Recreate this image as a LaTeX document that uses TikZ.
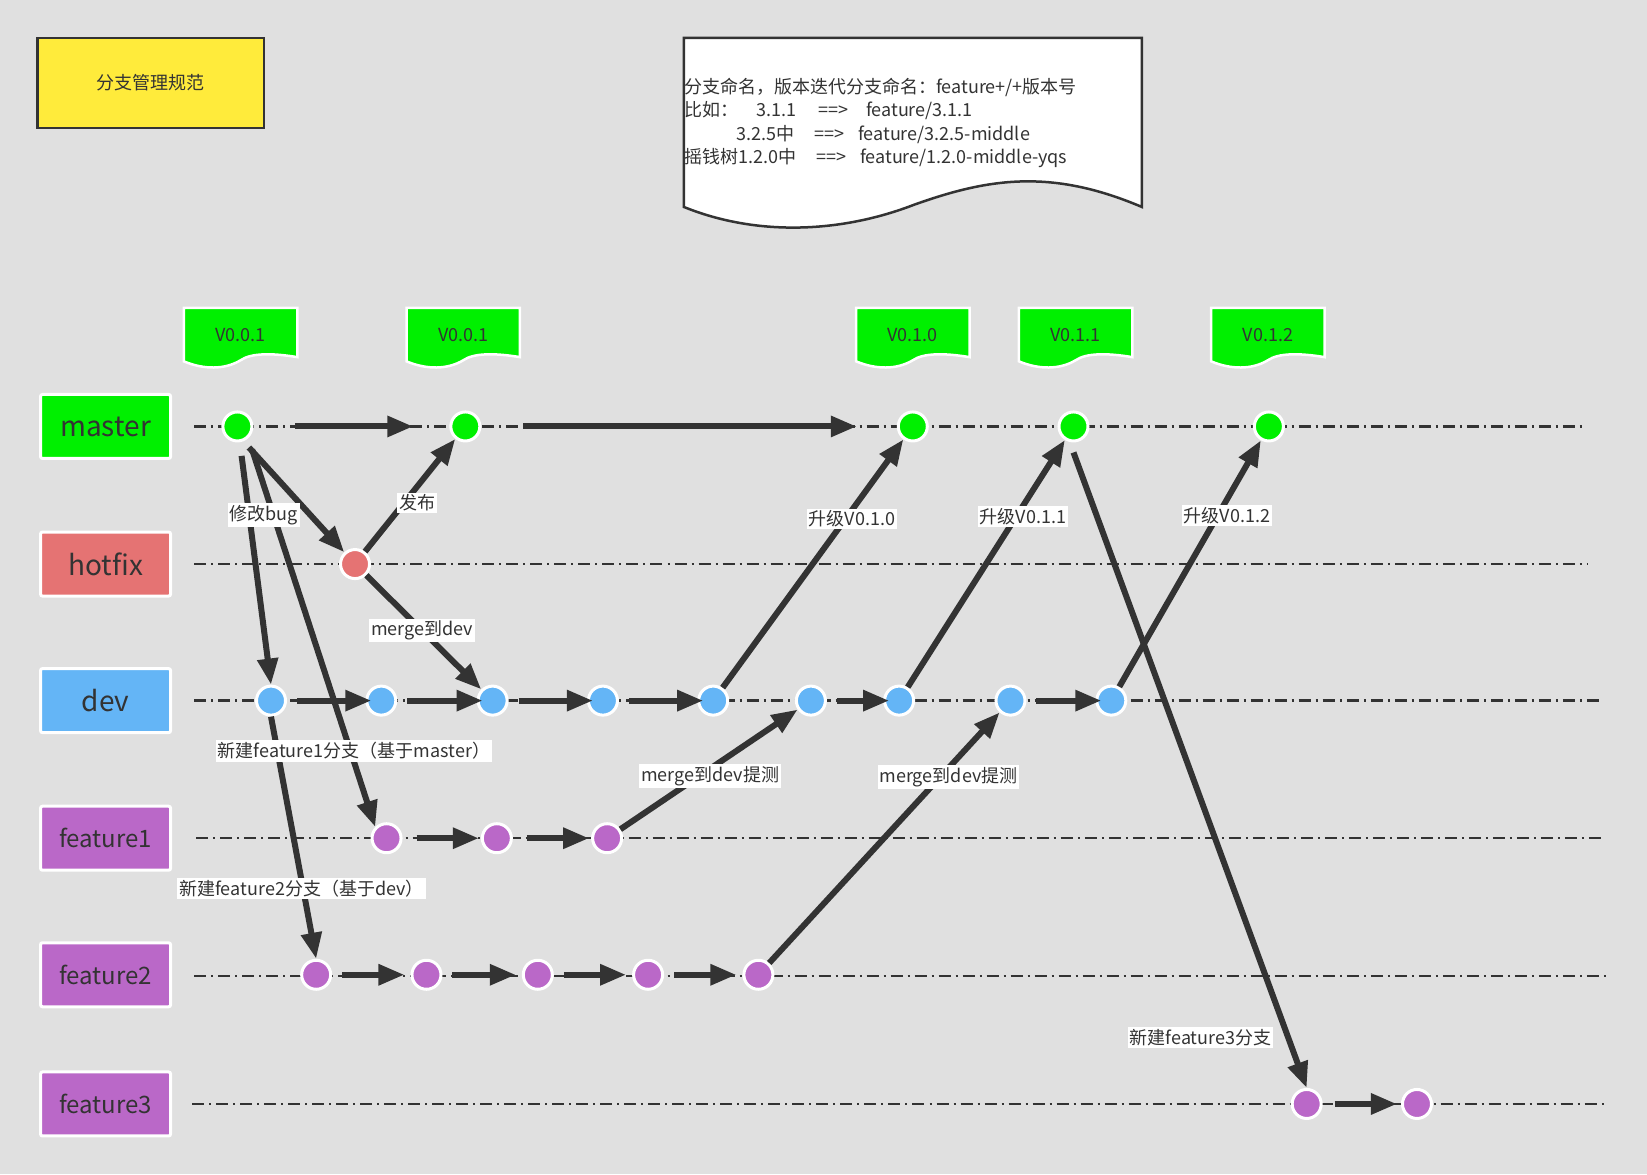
\documentclass[tikz,border=0pt]{standalone}
\usepackage{fontspec}
\setmainfont{Noto Sans CJK SC}
\usetikzlibrary{arrows.meta}
\definecolor{bg}{HTML}{E0E0E0}
\definecolor{mgreen}{HTML}{00F000}
\definecolor{hred}{HTML}{E57373}
\definecolor{dblue}{HTML}{64B5F6}
\definecolor{fpur}{HTML}{BA68C8}
\definecolor{ink}{HTML}{333333}
\begin{document}
\begin{tikzpicture}[x=1.05pt,y=-1.05pt,
  lane/.style={draw=ink,line width=2.5pt,dash pattern=on 12pt off 5pt on 2pt off 5pt},
  br/.style={draw=white,line width=3pt,rounded corners=2pt,minimum width=130pt,minimum height=64pt,font=\fontsize{28}{30}\selectfont,text=ink},
  dot/.style={circle,draw=white,line width=3pt,minimum size=29pt,inner sep=0pt},
  ar/.style={draw=ink,line width=6pt,-{Triangle[length=26pt,width=20pt]}},
  lab/.style={fill=white,inner sep=2pt,font=\fontsize{18}{20}\selectfont,text=ink},
  tagt/.style={font=\fontsize{18}{20}\selectfont,text=ink}]
\fill[bg] (0,0) rectangle (1568,1118);
\useasboundingbox (0,0) rectangle (1568,1118);
% title
\node[draw=ink,line width=2.5pt,fill=yellow!85!orange!60,minimum width=226pt,minimum height=90pt,font=\fontsize{18}{20}\selectfont,text=ink] (title) at (143.5,79) {分支管理规范};
\definecolor{ylw}{HTML}{FFEB3B}
\node[draw=ink,line width=2.5pt,fill=ylw,minimum width=226pt,minimum height=90pt,font=\fontsize{18}{20}\selectfont,text=ink] (title2) at (143.5,79) {分支管理规范};
% note
\draw[ink,line width=2.5pt,fill=white] (651,197) -- (651,36) -- (1087,36) -- (1087,197)
  .. controls (1000,160) and (940,170) .. (870,195) .. controls (800,222) and (720,225) .. cycle;
\node[anchor=north west,align=left,inner sep=0pt,font=\fontsize{18}{23.5}\selectfont,text=ink] (note) at (651,74)
 {分支命名，版本迭代分支命名：feature+/+版本号\\
  比如：\hspace{18pt}3.1.1\hspace{22pt}==>\hspace{18pt}feature/3.1.1\\
  \hspace{52pt}3.2.5中\hspace{20pt}==>\hspace{14pt}feature/3.2.5-middle\\
  摇钱树1.2.0中\hspace{20pt}==>\hspace{14pt}feature/1.2.0-middle-yqs};
% tags
\foreach \x/\t [count=\i] in {229/V0.0.1,441/V0.0.1,869/V0.1.0,1024/V0.1.1,1207/V0.1.2}{
  \draw[white,line width=2.5pt,fill=mgreen] (\x-54,344) -- (\x-54,293) -- (\x+54,293) -- (\x+54,340)
    .. controls (\x+30,336) and (\x+10,336) .. (\x,343) .. controls (\x-15,352) and (\x-35,352) .. cycle;
  \node[tagt] (tag\i) at (\x,319) {\t};
}
% lanes
\draw[lane] (185,406) -- (1510,406);
\draw[lane] (185,537) -- (1512,537);
\draw[lane] (185,667) -- (1522,667);
\draw[lane] (187,798) -- (1524,798);
\draw[lane] (185,929) -- (1533,929);
\draw[lane] (183,1051) -- (1528,1051);
% branch labels
\node[br,fill=mgreen] (bm) at (100.5,406) {master};
\node[br,fill=hred] (bh) at (100.5,537) {hotfix};
\node[br,fill=dblue] (bd) at (100.5,667) {dev};
\node[br,fill=fpur,font=\fontsize{24}{26}\selectfont] (bf1) at (100.5,798) {feature1};
\node[br,fill=fpur,font=\fontsize{24}{26}\selectfont] (bf2) at (100.5,928) {feature2};
\node[br,fill=fpur,font=\fontsize{24}{26}\selectfont] (bf3) at (100.5,1051) {feature3};
% dots
\foreach \x [count=\i] in {226,443,869,1022,1208} \node[dot,fill=mgreen] (m\i) at (\x,406) {};
\node[dot,fill=hred] (h1) at (338,537) {};
\foreach \x [count=\i] in {258,363,469,574,679,772,856,962,1058} \node[dot,fill=dblue] (d\i) at (\x,667) {};
\foreach \x [count=\i] in {368,473,578} \node[dot,fill=fpur] (fa\i) at (\x,798) {};
\foreach \x [count=\i] in {301,406,512,617,722} \node[dot,fill=fpur] (fb\i) at (\x,928) {};
\foreach \x [count=\i] in {1244,1349} \node[dot,fill=fpur] (fc\i) at (\x,1051) {};
% horizontal arrows
\draw[ar] ([xshift=58pt]m1.center) -- ([xshift=-52pt]m2.center);
\draw[ar] ([xshift=58pt]m2.center) -- ([xshift=-56pt]m3.center);
\foreach \a/\b in {1/2,2/3,3/4,4/5,6/7,8/9}
  \draw[ar] ([xshift=26pt]d\a.center) -- ([xshift=-10pt]d\b.center);
\foreach \a/\b in {1/2,2/3} \draw[ar] ([xshift=30pt]fa\a.center) -- ([xshift=-18pt]fa\b.center);
\foreach \a/\b in {1/2,2/3,3/4,4/5} \draw[ar] ([xshift=26pt]fb\a.center) -- ([xshift=-22pt]fb\b.center);
\draw[ar] ([xshift=28pt]fc1.center) -- ([xshift=-20pt]fc2.center);
% diagonal arrows
\coordinate (s1) at (230,434); \coordinate (s2) at (240,428); \coordinate (s3) at (237,426);
\draw[ar] (s1) -- (d1.north);
\draw[ar] (s3) -- (h1);
\draw[ar] (s2) -- (fa1.north west);
\draw[ar] (h1) -- (m2);
\draw[ar] (h1) -- (d3);
\draw[ar] (d5) -- (m3);
\draw[ar] (d7) -- (m4);
\draw[ar] (d9) -- (m5);
\draw[ar] ([yshift=-10pt]m4.south) -- (fc1.north);
\draw[ar] (d1.south) -- (fb1.north);
\draw[ar] (fa3) -- (d6);
\draw[ar] (fb5) -- (d8);
% labels
\node[lab] (l1) at (251,490) {修改bug};
\node[lab] (l2) at (397,479) {发布};
\node[lab] (l3) at (402,600) {merge到dev};
\node[lab] (l4) at (811,494) {升级V0.1.0};
\node[lab] (l5) at (974,492) {升级V0.1.1};
\node[lab] (l6) at (1168,491) {升级V0.1.2};
\node[lab] (l7) at (337,715) {新建feature1分支（基于master）};
\node[lab] (l8) at (287,846) {新建feature2分支（基于dev）};
\node[lab] (l9) at (676,739) {merge到dev提测};
\node[lab] (l10) at (903,740) {merge到dev提测};
\node[lab] (l11) at (1143,988) {新建feature3分支};
\end{tikzpicture}
\end{document}
